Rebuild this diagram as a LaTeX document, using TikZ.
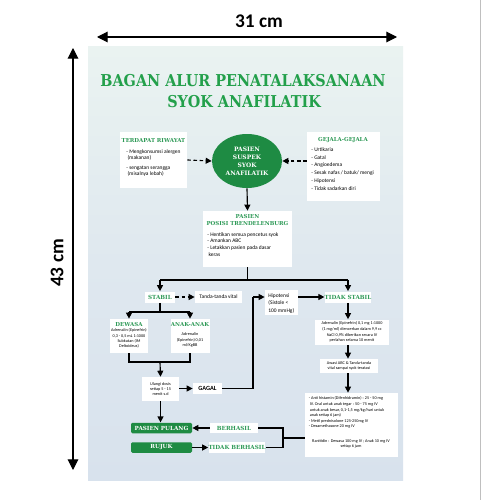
\documentclass[tikz,border=0pt]{standalone}
\usepackage{fontspec}
\setmainfont{Carlito}
\newfontfamily\serifb{DejaVu Serif}
\usetikzlibrary{arrows.meta,shapes.geometric,calc}
\definecolor{ttlgreen}{HTML}{23A04B}
\definecolor{lblgreen}{HTML}{2E9A57}
\definecolor{fillgreen}{HTML}{1E8B43}
\definecolor{posterTop}{HTML}{EAF3F1}
\definecolor{posterMid}{HTML}{DFE8EF}
\definecolor{posterBot}{HTML}{D8E2ED}
\begin{document}
\begin{tikzpicture}[x=0.02cm,y=-0.02cm,
  box/.style={fill=white, draw=none, inner sep=0pt},
  gttl/.style={text=lblgreen, font=\serifb\bfseries\fontsize{3.1}{3.8}\selectfont, inner sep=0pt, align=center},
  itm/.style={font=\fontsize{3.1}{3.9}\selectfont, inner sep=0pt, align=left, anchor=north west},
  sml/.style={font=\fontsize{2.4}{3.0}\selectfont, inner sep=0pt, align=center},
  arr/.style={-{Triangle[length=3.4pt,width=3.4pt]}, line width=0.65pt},
  ln/.style={line width=0.65pt},
  darr/.style={arr, dash pattern=on 2pt off 1.5pt},
  dim/.style={{Triangle[length=6pt,width=6pt]}-{Triangle[length=6pt,width=6pt]}, line width=0.6pt},
  gbtn/.style={fill=fillgreen, rounded corners=0.8pt, text=white, font=\serifb\bfseries\fontsize{3.2}{3.8}\selectfont, inner sep=0pt},
  wlbl/.style={fill=white, text=lblgreen, font=\serifb\bfseries\fontsize{3.2}{3.8}\selectfont, inner sep=0pt},
  bigttl/.style={text=ttlgreen, font=\serifb\bfseries\fontsize{9.3}{11}\selectfont, inner sep=0pt}
]
\useasboundingbox (0,0) rectangle (500,500);
% poster background
\shade[top color=posterTop, bottom color=posterBot, middle color=posterMid] (88,47) rectangle (403,480);
\draw[black!25, line width=0.4pt] (480,0) -- (480,500);
% dimension arrows
\coordinate (wL) at (97,37); \coordinate (wR) at (397,37);
\draw[dim] (wL) -- (wR);
\node[font=\bfseries\fontsize{11}{13}\selectfont] (wlab) at (259,21) {31 cm};
\coordinate (hT) at (73,48); \coordinate (hB) at (73,470);
\draw[dim] (hT) -- (hB);
\node[font=\bfseries\fontsize{11}{13}\selectfont, rotate=90] (hlab) at (57,263) {43 cm};
% title
\node[bigttl] (t1) at (243,81) {\scalebox{0.88}[1]{BAGAN ALUR PENATALAKSANAAN}};
\node[bigttl] (t2) at (244,102) {\scalebox{0.88}[1]{SYOK ANAFILATIK}};
% riwayat box
\node[box, minimum width=67*0.02cm, minimum height=56*0.02cm] (riw) at (153.5,160) {};
\node[gttl] (riwt) at (153.5,141) {TERDAPAT RIWAYAT};
\node[itm] (riwi) at (126,149) {- Mengkonsumsi alergen\\ \ (makanan)\\[1.3pt]- sengatan serangga\\ \ (misalnya lebah)};
% ellipse
\node[ellipse, fill=fillgreen, minimum width=70*0.02cm, minimum height=54*0.02cm, inner sep=0pt, text=white, align=center, font=\serifb\bfseries\fontsize{3.4}{4.5}\selectfont] (ps) at (247,161) {PASIEN\\SUSPEK\\SYOK\\ANAFILATIK};
% gejala box
\node[box, minimum width=73*0.02cm, minimum height=69*0.02cm] (gej) at (343.5,166.5) {};
\node[gttl] (gejt) at (343,140) {GEJALA-GEJALA};
\node[itm, font=\fontsize{3.1}{4.5}\selectfont] (geji) at (311,147) {- Urtikaria\\- Gatal\\- Angioedema\\- Sesak nafas / batuk/ mengi\\- Hipotensi\\- Tidak sadarkan diri};
\draw[darr] (riw.east) -- (ps.west);
\draw[darr] (gej.west |- ps.east) -- (ps.east);
% trendelenburg
\node[box, minimum width=89*0.02cm, minimum height=56*0.02cm] (tre) at (247.5,239) {};
\node[gttl] (tret) at (247.5,220) {PASIEN\\POSISI TRENDELENBURG};
\node[itm] (trei) at (207,232) {- Hentikan semua pencetus syok\\- Amankan ABC\\- Letakkan pasien pada dasar\\ \ keras};
\draw[arr] (ps.south) -- (tre.north);
% split
\coordinate (sp) at (247.5,280);
\coordinate (spL) at (160,280);
\coordinate (spR) at (348,280);
\draw[ln] (tre.south) -- (sp);
\draw[ln] (spL) -- (spR);
% stabil
\node[wlbl, minimum width=30*0.02cm, minimum height=11*0.02cm] (stb) at (160,297) {STABIL};
\node[box, minimum width=47*0.02cm, minimum height=12*0.02cm, font=\fontsize{3.1}{3.8}\selectfont] (ttv) at (218.5,297) {Tanda-tanda vital};
\draw[arr] (spL) -- (stb.north);
\draw[darr] (stb.east) -- (ttv.west);
\coordinate (s2) at (160,312); \coordinate (s2L) at (129,312); \coordinate (s2R) at (190,312);
\draw[ln] (stb.south) -- (s2);
\draw[ln] (s2L) -- (s2R);
% dewasa / anak
\node[box, minimum width=38*0.02cm, minimum height=34*0.02cm] (dew) at (129,336) {};
\node[gttl] (dewt) at (129,324.5) {DEWASA};
\node[sml] (dewi) at (129,338.5) {Adrenalin (Epinefrin)\\0,3 - 0,5 mL 1:1000\\Subkutan (IM\\Deltoideus)};
\node[box, minimum width=39*0.02cm, minimum height=34*0.02cm] (ank) at (190,336) {};
\node[gttl] (ankt) at (190,324.5) {ANAK-ANAK};
\node[sml] (anki) at (190,340) {Adrenalin\\(Epinefrin) 0,01\\ml/KgBB};
\draw[arr] (s2L) -- (dew.north);
\draw[arr] (s2R) -- (ank.north);
\coordinate (m1) at (129,362); \coordinate (m2) at (190,362); \coordinate (mc) at (160,362);
\draw[ln] (dew.south) -- (m1) -- (m2) -- (ank.south);
% ulangi
\node[box, minimum width=37*0.02cm, minimum height=24*0.02cm] (ul) at (160.5,389) {};
\node[sml] (uli) at (160.5,389) {Ulangi dosis\\setiap 5 - 15\\menit s.d};
\draw[arr] (mc) -- (ul.north);
% gagal
\node[box, minimum width=29*0.02cm, minimum height=11*0.02cm, font=\bfseries\fontsize{3.6}{4}\selectfont] (gag) at (207.5,388.5) {GAGAL};
\draw[arr] (ul.east |- gag.west) -- (gag.west);
% hipotensi
\node[box, minimum width=33*0.02cm, minimum height=25*0.02cm] (hip) at (281.5,302.5) {};
\node[itm, font=\fontsize{3.1}{4.4}\selectfont] (hipi) at (268,293) {Hipotensi\\(Sistole <\\100 mmHg)};
% tidak stabil
\node[wlbl, minimum width=46*0.02cm, minimum height=11*0.02cm] (tds) at (348,297) {TIDAK STABIL};
\draw[arr] (spR) -- (tds.north);
\coordinate (g1) at (253,388.5); \coordinate (g2) at (253,297);
\draw[ln] (gag.east) -- (g1) -- (g2);
\draw[arr] (g2) -- (hip.west |- tds.west);
\draw[arr] (hip.east |- tds.west) -- (tds.west);
% adrenalin
\node[box, minimum width=74*0.02cm, minimum height=25*0.02cm] (adr) at (352,332) {};
\node[sml, font=\fontsize{2.4}{3.2}\selectfont] (adri) at (352,332) {Adrenalin (Epinefrin) 0,1 mg 1:1000\\(1 mg/ml) diencerkan dalam 9,9 cc\\NaCl 0,9\% diberikan secara IV\\perlahan selama 10 menit};
\draw[arr] (tds.south) -- (tds.south |- adr.north);
% awasi
\node[box, minimum width=58*0.02cm, minimum height=14*0.02cm] (aw) at (349,366) {};
\node[sml, font=\fontsize{2.4}{3.2}\selectfont] (awi) at (349,366) {Awasi ABC \& Tanda-tanda\\vital sampai syok teratasi};
\draw[arr] (tds.south |- adr.south) -- (tds.south |- aw.north);
% bottom box
\node[box, minimum width=93*0.02cm, minimum height=64*0.02cm] (bot) at (351.5,425) {};
\node[itm, font=\fontsize{2.4}{3.15}\selectfont] (boti) at (308.5,396.5) {- Anti histamin (Difenhidramin) : 25 - 50 mg\\ \ IV. Oral untuk anak tegar : 50 - 75 mg IV\\ \ untuk anak besar, 0,1-1,5 mg/kg/hari untuk\\ \ anak setiap 6 jam)\\- Metil prednisolone 125-250mg IV\\- Dexamethasone 20 mg IV};
\node[sml, font=\fontsize{2.4}{3.15}\selectfont] (botr) at (351,444) {Ranitidin : Dewasa 100 mg IV ; Anak 10 mg IV\\setiap 6 jam};
\draw[arr] (tds.south |- aw.south) -- (tds.south |- bot.north);
% pulang / rujuk
\node[gbtn, minimum width=61*0.02cm, minimum height=10.5*0.02cm] (pul) at (161.5,428) {PASIEN PULANG};
\node[gbtn, minimum width=61*0.02cm, minimum height=10.5*0.02cm] (ruj) at (161.5,447.5) {RUJUK};
\draw[arr] (ul.south) -- (ul.south |- pul.north);
\node[wlbl, minimum width=48*0.02cm, minimum height=10.5*0.02cm] (ber) at (234,428) {BERHASIL};
\node[wlbl, minimum width=56*0.02cm, minimum height=10.5*0.02cm] (tber) at (237,447.5) {TIDAK BERHASIL};
\draw[arr] (ber.west) -- (pul.east);
\draw[arr] (ruj.east) -- (tber.west);
\coordinate (b1) at (283,428); \coordinate (b2) at (283,447.5); \coordinate (b3) at (283,438);
\draw[ln] (ber.east) -- (b1) -- (b2) -- (tber.east);
\draw[ln] (b3) -- (b3 -| bot.west);
\end{tikzpicture}
\end{document}
